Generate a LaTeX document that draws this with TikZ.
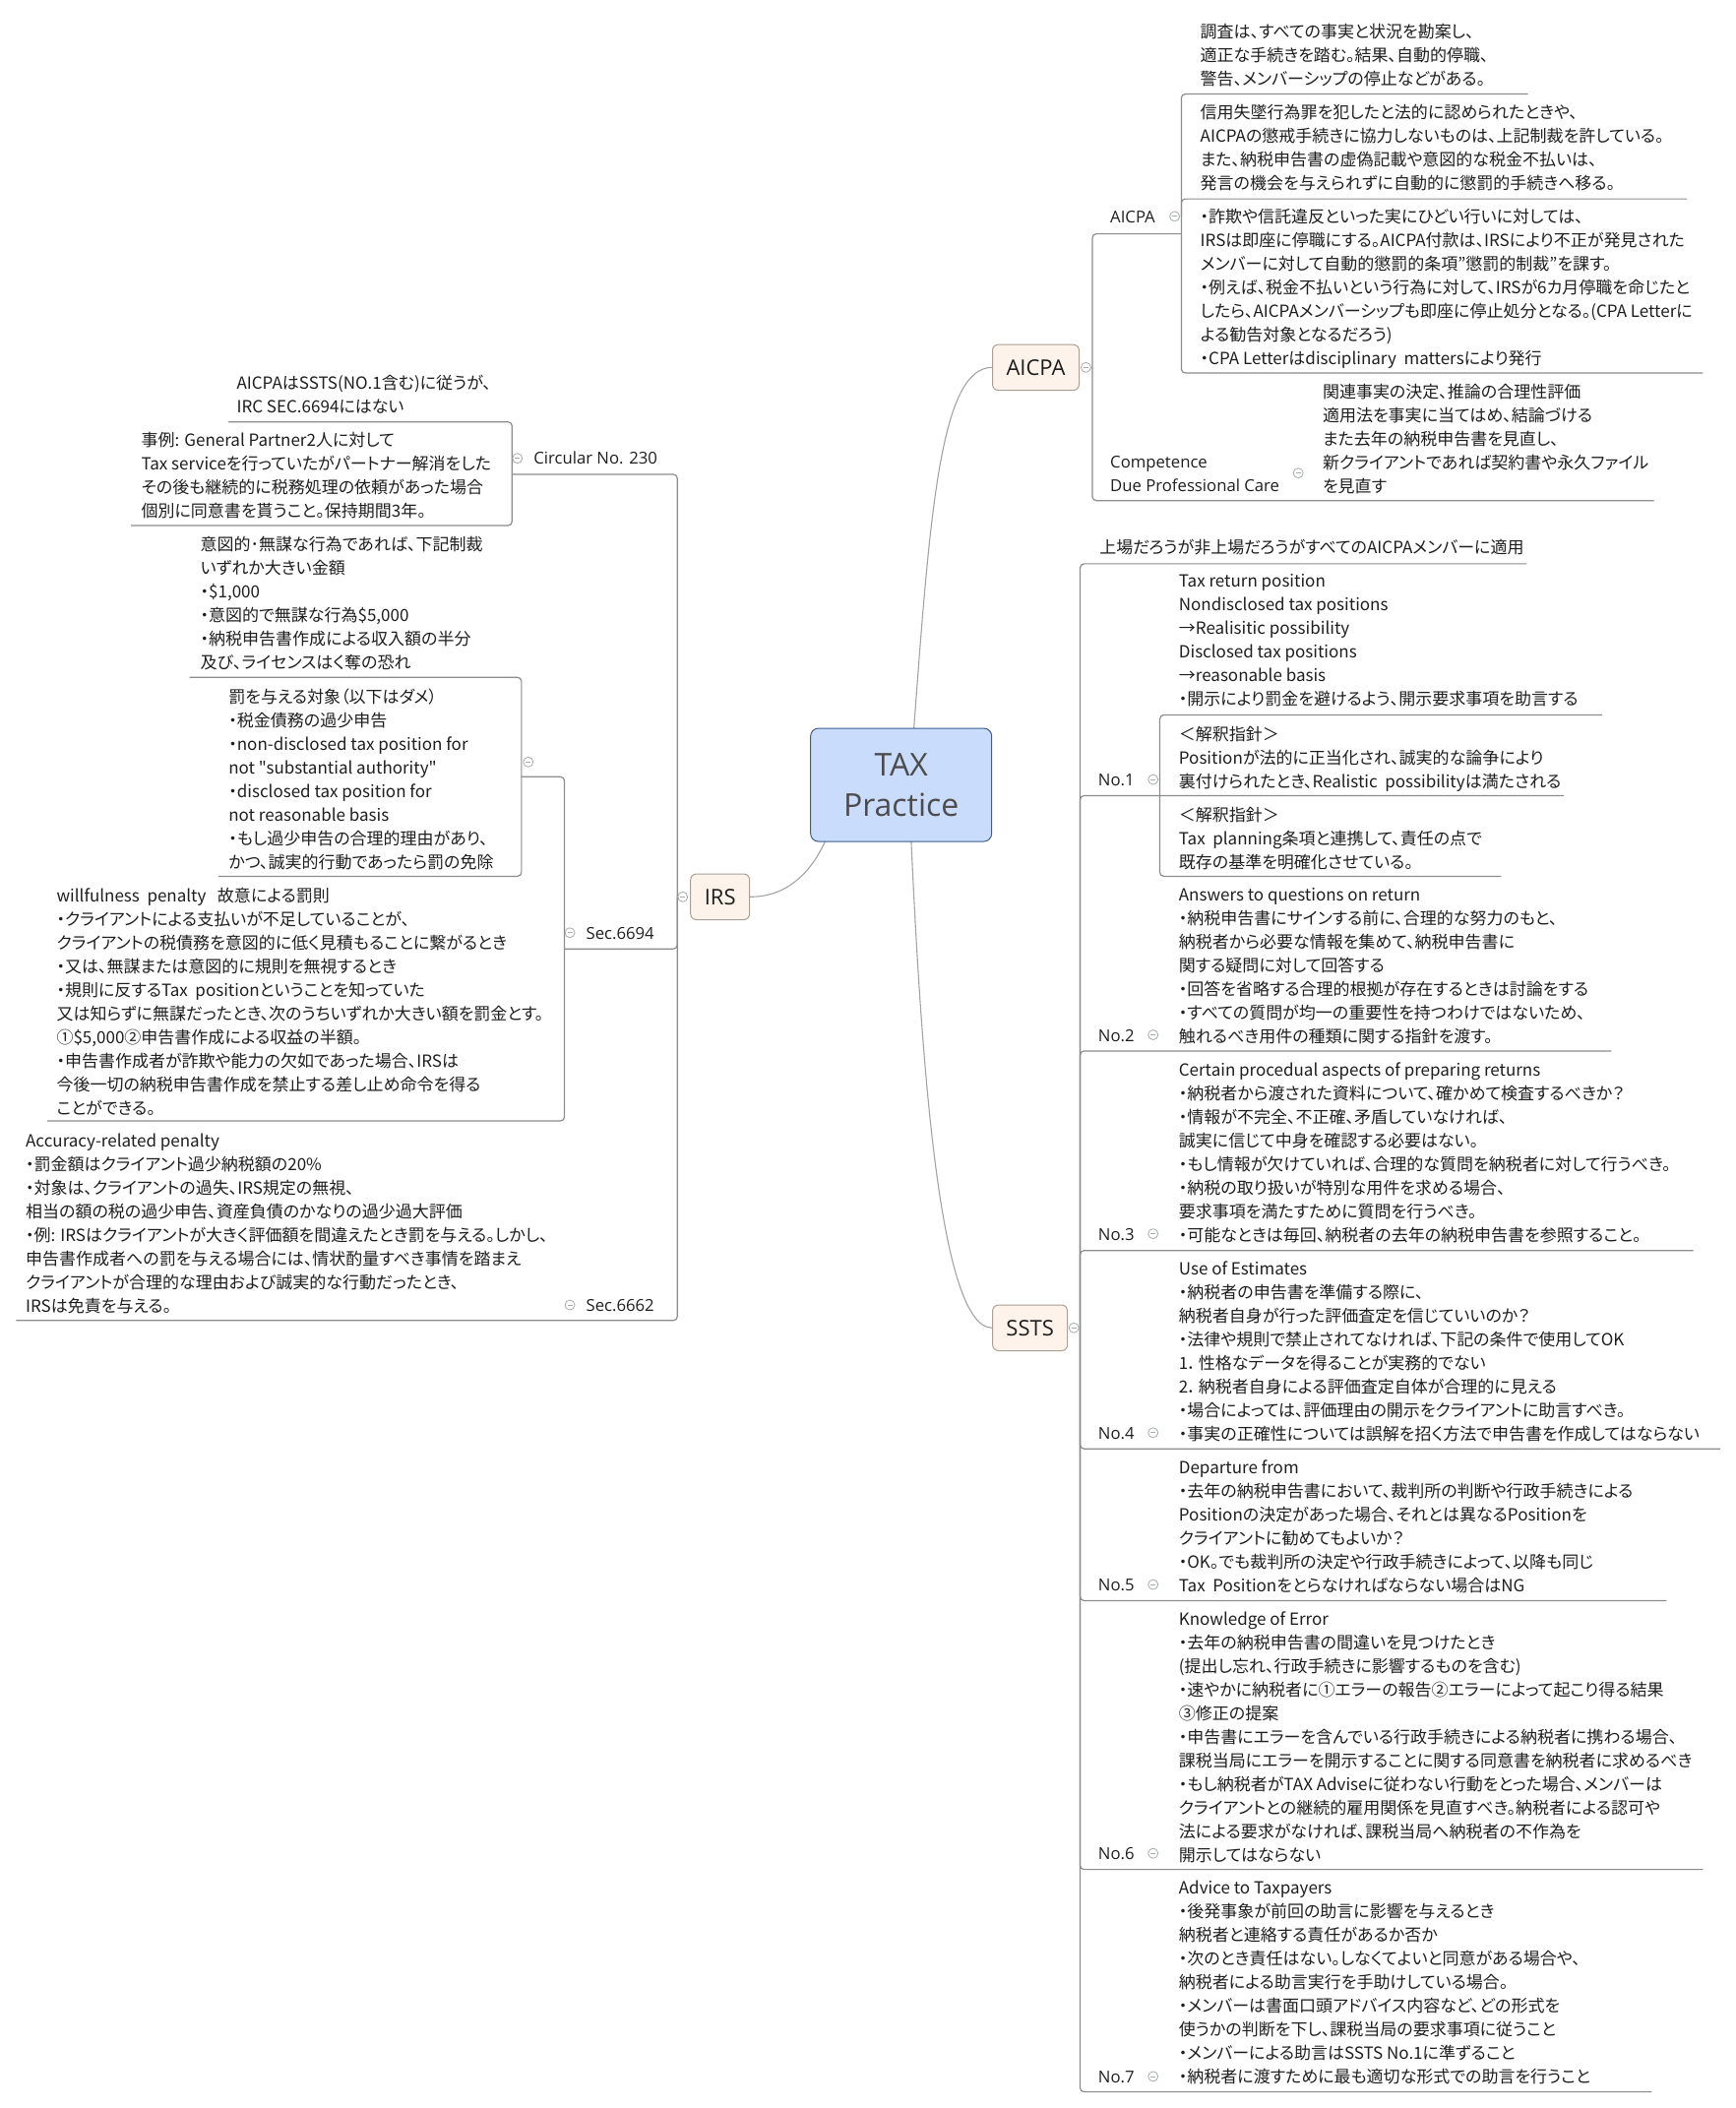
\documentclass[tikz,border=0pt]{standalone}
\usepackage{fontspec}
\newfontfamily\bodyfont{Noto Sans CJK JP}[RawFeature=+palt]
\newfontfamily\labelfont{Open Sans}
\usetikzlibrary{backgrounds}

\begin{document}
\begin{tikzpicture}[x=1.3656pt, y=-1.3656pt, line join=round]

  % Colors and styles
  \definecolor{lineGray}{HTML}{8C8C8C}
  \definecolor{curveGray}{HTML}{A3A3A3}
  \definecolor{dotGray}{HTML}{A6ABAB}
  \definecolor{rootFill}{HTML}{C9DCFB}
  \definecolor{rootEdge}{HTML}{3E5C8E}
  \definecolor{topicFill}{HTML}{FEF3EA}
  \definecolor{topicEdge}{HTML}{A89F96}
  \definecolor{inkDark}{HTML}{1E1E1E}
  \tikzset{
    root/.style={draw=rootEdge, fill=rootFill, rounded corners=8pt, line width=1pt, align=center,
      minimum width=184pt, minimum height=115pt, inner sep=0pt, text=black!70,
      font=\labelfont\fontsize{32}{41}\selectfont},
    topic/.style={draw=topicEdge, fill=topicFill, rounded corners=6pt, line width=1pt,
      minimum height=46.5pt, inner sep=0pt, text=inkDark,
      font=\labelfont\fontsize{22}{26}\selectfont},
    lbl/.style={anchor=west, inner sep=0pt, text=inkDark, font=\labelfont\fontsize{16.7}{24}\selectfont},
    txt/.style={anchor=north west, inner sep=0pt, align=left, yshift=6.5pt, text=inkDark,
      font=\bodyfont\fontsize{17}{24}\selectfont, execute at begin node=\strut},
    dot/.style={circle, draw=dotGray, fill=white, line width=0.8pt, minimum size=10pt, inner sep=0pt,
      path picture={\draw[dotGray, line width=0.8pt]
        ([xshift=-2.5pt]path picture bounding box.center) --
        ([xshift=2.5pt]path picture bounding box.center);}},
    branch/.style={draw=lineGray, line width=1.2pt, rounded corners=4pt},
    curve/.style={draw=curveGray, line width=1.1pt},
  }

  \useasboundingbox (0,0) rectangle (1291,1568.5);

  % Center and main topics
  \node[root] (tax) at (670.5,584) {TAX\\Practice};
  \node[topic, minimum width=88pt] (aicpa) at (770.7,273.4) {AICPA};
  \node[topic, minimum width=60pt] (irs) at (535.8,667.3) {IRS};
  \node[topic, minimum width=76pt] (ssts) at (766.4,988) {SSTS};

  \node[dot] (dotAicpa) at (808,273.4) {};
  \node[dot] (dotIrs) at (508,667.3) {};
  \node[dot] (dotSsts) at (799,988) {};

  % AICPA branch
  \node[lbl] (aicpaSub) at (826,161.5) {AICPA};
  \node[dot] (dotAicpaSub) at (874,161) {};
  \node[lbl, anchor=north west, align=left, yshift=5.5pt, execute at begin node=\strut] (compDue) at (826,343) {Competence\\Due Professional Care};
  \node[dot] (dotComp) at (966,352) {};

  \node[txt] (aicpaA) at (893,22) {調査は、すべての事実と状況を勘案し、\\適正な手続きを踏む。結果、自動的停職、\\警告、メンバーシップの停止などがある。};
  \node[txt] (aicpaB) at (893,82) {信用失墜行為罪を犯したと法的に認められたときや、\\AICPAの懲戒手続きに協力しないものは、上記制裁を許している。\\また、納税申告書の虚偽記載や意図的な税金不払いは、\\発言の機会を与えられずに自動的に懲罰的手続きへ移る。};
  \node[txt] (aicpaC) at (893,160) {・詐欺や信託違反といった実にひどい行いに対しては、\\IRSは即座に停職にする。AICPA付款は、IRSにより不正が発見された\\メンバーに対して自動的懲罰的条項”懲罰的制裁”を課す。\\・例えば、税金不払いという行為に対して、IRSが6カ月停職を命じたと\\したら、AICPAメンバーシップも即座に停止処分となる。(CPA Letterに\\よる勧告対象となるだろう)\\・CPA Letterはdisciplinary\ \ mattersにより発行};
  \node[txt] (compText) at (984,290) {関連事実の決定、推論の合理性評価\\適用法を事実に当てはめ、結論づける\\また去年の納税申告書を見直し、\\新クライアントであれば契約書や永久ファイル\\を見直す};

  % IRS branch
  \node[lbl] (circular) at (397,340.5) {Circular No. 230};
  \node[dot] (dotCircular) at (385,341) {};
  \node[lbl] (secA) at (436,694.5) {Sec.6694};
  \node[dot] (dotSecA) at (424,694) {};
  \node[lbl] (secB) at (436,971.5) {Sec.6662};
  \node[dot] (dotSecB) at (424,971) {};
  \node[dot] (dotPenalty) at (393,567) {};

  \node[txt] (circA) at (176,284) {AICPAはSSTS(NO.1含む)に従うが、\\IRC SEC.6694にはない};
  \node[txt] (circB) at (105,326) {事例: General Partner2人に対して\\Tax serviceを行っていたがパートナー解消をした\\その後も継続的に税務処理の依頼があった場合\\個別に同意書を貰うこと。保持期間3年。};
  \node[txt] (secAa) at (149,404) {意図的･無謀な行為であれば、下記制裁\\いずれか大きい金額\\・\$1,000\\・意図的で無謀な行為\$5,000\\・納税申告書作成による収入額の半分\\及び、ライセンスはく奪の恐れ};
  \node[txt] (secAb) at (170,517) {罰を与える対象（以下はダメ）\\・税金債務の過少申告\\・non-disclosed tax position for\\not "substantial authority"\\・disclosed tax position for\\not reasonable basis\\・もし過少申告の合理的理由があり、\\かつ、誠実的行動であったら罰の免除};
  \node[txt] (secAc) at (42,665) {willfulness\ \ penalty\ \ \ 故意による罰則\\・クライアントによる支払いが不足していることが、\\クライアントの税債務を意図的に低く見積もることに繋がるとき\\・又は、無謀または意図的に規則を無視するとき\\・規則に反するTax\ \ positionということを知っていた\\又は知らずに無謀だったとき、次のうちいずれか大きい額を罰金とす。\\①\$5,000②申告書作成による収益の半額。\\・申告書作成者が詐欺や能力の欠如であった場合、IRSは\\今後一切の納税申告書作成を禁止する差し止め命令を得る\\ことができる。};
  \node[txt] (secBa) at (19,848) {Accuracy-related penalty\\・罰金額はクライアント過少納税額の20\%\\・対象は、クライアントの過失、IRS規定の無視、\\相当の額の税の過少申告、資産負債のかなりの過少過大評価\\・例: IRSはクライアントが大きく評価額を間違えたとき罰を与える。しかし、\\申告書作成者への罰を与える場合には、情状酌量すべき事情を踏まえ\\クライアントが合理的な理由および誠実的な行動だったとき、\\IRSは免責を与える。};

  % SSTS branch
  \foreach \i/\y in {1/580,2/770,3/918,4/1066,5/1179,6/1379,7/1545} {
    \node[lbl] (no\i) at (817,\y+0.5) {No.\i};
    \node[dot] (dotNo\i) at (858,\y) {};
  }

  \node[txt] (sstsHead) at (818,404.5) {上場だろうが非上場だろうがすべてのAICPAメンバーに適用};
  \node[txt] (noOneA) at (877,432) {Tax return position\\Nondisclosed tax positions\\→Realisitic possibility\\Disclosed tax positions\\→reasonable basis\\・開示により罰金を避けるよう、開示要求事項を助言する};
  \node[txt] (noOneB) at (877,545) {＜解釈指針＞\\Positionが法的に正当化され、誠実的な論争により\\裏付けられたとき、Realistic\ \ possibilityは満たされる};
  \node[txt] (noOneC) at (877,605) {＜解釈指針＞\\Tax\ \ planning条項と連携して、責任の点で\\既存の基準を明確化させている。};
  \node[txt] (noTwo) at (877,665) {Answers to questions on return\\・納税申告書にサインする前に、合理的な努力のもと、\\納税者から必要な情報を集めて、納税申告書に\\関する疑問に対して回答する\\・回答を省略する合理的根拠が存在するときは討論をする\\・すべての質問が均一の重要性を持つわけではないため、\\触れるべき用件の種類に関する指針を渡す。};
  \node[txt] (noThree) at (877,795) {Certain procedual aspects of preparing returns\\・納税者から渡された資料について、確かめて検査するべきか？\\・情報が不完全、不正確、矛盾していなければ、\\誠実に信じて中身を確認する必要はない。\\・もし情報が欠けていれば、合理的な質問を納税者に対して行うべき。\\・納税の取り扱いが特別な用件を求める場合、\\要求事項を満たすために質問を行うべき。\\・可能なときは毎回、納税者の去年の納税申告書を参照すること。};
  \node[txt] (noFour) at (877,943) {Use of Estimates\\・納税者の申告書を準備する際に、\\納税者自身が行った評価査定を信じていいのか？\\・法律や規則で禁止されてなければ、下記の条件で使用してOK\\1．\hspace{2pt}性格なデータを得ることが実務的でない\\2．\hspace{2pt}納税者自身による評価査定自体が合理的に見える\\・場合によっては、評価理由の開示をクライアントに助言すべき。\\・事実の正確性については誤解を招く方法で申告書を作成してはならない};
  \node[txt] (noFive) at (877,1091) {Departure from\\・去年の納税申告書において、裁判所の判断や行政手続きによる\\Positionの決定があった場合、それとは異なるPositionを\\クライアントに勧めてもよいか？\\・OK。でも裁判所の決定や行政手続きによって、以降も同じ\\Tax\ \ Positionをとらなければならない場合はNG};
  \node[txt] (noSix) at (877,1204) {Knowledge of Error\\・去年の納税申告書の間違いを見つけたとき\\(提出し忘れ、行政手続きに影響するものを含む)\\・速やかに納税者に①エラーの報告②エラーによって起こり得る結果\\③修正の提案\\・申告書にエラーを含んでいる行政手続きによる納税者に携わる場合、\\課税当局にエラーを開示することに関する同意書を納税者に求めるべき\\・もし納税者がTAX Adviseに従わない行動をとった場合、メンバーは\\クライアントとの継続的雇用関係を見直すべき。納税者による認可や\\法による要求がなければ、課税当局へ納税者の不作為を\\開示してはならない};
  \node[txt] (noSeven) at (877,1404) {Advice to Taxpayers\\・後発事象が前回の助言に影響を与えるとき\\納税者と連絡する責任があるか否か\\・次のとき責任はない。しなくてよいと同意がある場合や、\\納税者による助言実行を手助けしている場合。\\・メンバーは書面口頭アドバイス内容など、どの形式を\\使うかの判断を下し、課税当局の要求事項に従うこと\\・メンバーによる助言はSSTS No.1に準ずること\\・納税者に渡すために最も適切な形式での助言を行うこと};

  % Ends of the lines
  \coordinate (joinAicpa) at (812.8,273.4);
  \coordinate (joinAicpaSub) at (879,161);
  \coordinate (joinIrs) at (504,667.3);
  \coordinate (joinCircular) at (381,341);
  \coordinate (joinSecA) at (420,694);
  \coordinate (joinPenalty) at (388,567);
  \coordinate (joinSsts) at (803.7,988);
  \coordinate (joinNoOne) at (863,592);
  \foreach \name/\x/\y in {aicpaSubEnd/879/174, compEnd/1230.6/372.5, aicpaEndA/1137/70, aicpaEndB/1255/148,
      aicpaEndC/1267/277.5, circEnd/381/353, secAEnd/420/706, secBEnd/12/982.5, circEndA/170/314, circEndB/97.4/391,
      penaltyEnd/388/578, willEnd/35/834, secAaEnd/141/504, secAbEnd/162.5/652,
      headEnd/1136/419.5, noOneEnd/1163.6/592, noTwoEnd/1199/782, noThreeEnd/1260/930.5, noFourEnd/1280/1078,
      noFiveEnd/1240/1191, noSixEnd/1267/1391, noSevenEnd/1229/1556.5, noOneEndA/1192/532, noOneEndC/1117/652} {
    \coordinate (\name) at (\x,\y);
  }

  % Lines
  \begin{scope}[on background layer]
    \draw[curve] (680,542) .. controls (692,380) and (700,273.4) .. (aicpa.west);
    \draw[curve] (678,626) .. controls (686,800) and (700,988) .. (ssts.west);
    \draw[curve] (614,626) .. controls (603,650) and (585,667.3) .. (irs.east);

    \draw[branch] (dotAicpa) -- (joinAicpa);
    \draw[branch] (dotIrs) -- (joinIrs);
    \draw[branch] (dotSsts) -- (joinSsts);

    \foreach \e in {aicpaSubEnd, compEnd} {\draw[branch] (joinAicpa) |- (\e);}
    \foreach \e in {aicpaEndA, aicpaEndB, aicpaEndC} {\draw[branch] (joinAicpaSub) |- (\e);}
    \foreach \e in {circEnd, secAEnd, secBEnd} {\draw[branch] (joinIrs) |- (\e);}
    \foreach \e in {circEndA, circEndB} {\draw[branch] (joinCircular) |- (\e);}
    \foreach \e in {penaltyEnd, willEnd} {\draw[branch] (joinSecA) |- (\e);}
    \foreach \e in {secAaEnd, secAbEnd} {\draw[branch] (joinPenalty) |- (\e);}
    \foreach \e in {headEnd, noOneEnd, noTwoEnd, noThreeEnd, noFourEnd, noFiveEnd, noSixEnd, noSevenEnd} {
      \draw[branch] (joinSsts) |- (\e);
    }
    \foreach \e in {noOneEndA, noOneEndC} {\draw[branch] (joinNoOne) |- (\e);}
  \end{scope}

\end{tikzpicture}
\end{document}
